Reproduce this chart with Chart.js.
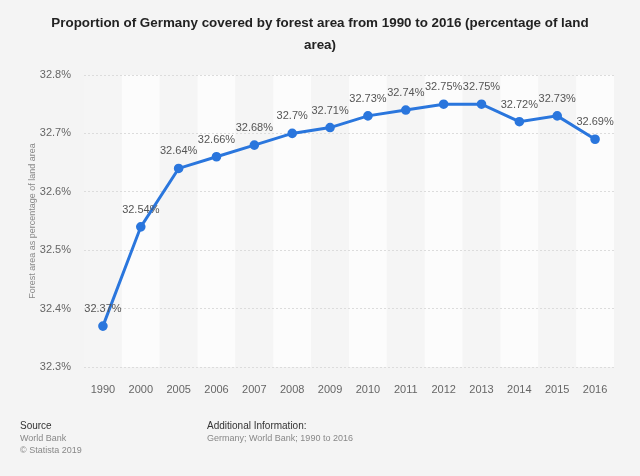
<!DOCTYPE html>
<html>
<head>
<meta charset="utf-8">
<script src="https://cdn.jsdelivr.net/npm/chart.js@4"></script>
<style>
  html, body { margin: 0; padding: 0; background: #f4f4f4; }
  #wrap { position: relative; width: 640px; height: 476px; font-family: "Liberation Sans", Arial, sans-serif; }
  #title { position: absolute; left: 20px; top: 12px; width: 600px; text-align: center; font-weight: bold; font-size: 13.4px; line-height: 22px; color: #222; }
  .foot { position: absolute; font-size: 9px; line-height: 12px; color: #888; }
  .foot b { color: #333; font-weight: normal; font-size: 10px; }
  canvas { position: absolute; left: 0; top: 0; }
</style>
</head>
<body>
<div id="wrap">
  <canvas id="myChart" width="640" height="476"></canvas>
  <div id="title">Proportion of Germany covered by forest area from 1990 to 2016 (percentage of land<br>area)</div>
  <div class="foot" style="left:20px; top:420px;"><b>Source</b><br>World Bank<br>© Statista 2019</div>
  <div class="foot" style="left:207px; top:420px;"><b>Additional Information:</b><br>Germany; World Bank; 1990 to 2016</div>
</div>
<script>
const years = ['1990', '2000', '2005', '2006', '2007', '2008', '2009', '2010', '2011', '2012', '2013', '2014', '2015', '2016'];
const forestShare = [32.37, 32.54, 32.64, 32.66, 32.68, 32.7, 32.71, 32.73, 32.74, 32.75, 32.75, 32.72, 32.73, 32.69];
const yTicks = [32.3, 32.4, 32.5, 32.6, 32.7, 32.8];

// alternating column bands behind the line
const bands = {
    id: 'bands',
    beforeDraw(chart) {
        const a = chart.chartArea;
        const x = chart.scales.x;
        const c = chart.ctx;
        const w = (a.right - a.left) / years.length;
        c.save();
        years.forEach((y, i) => {
            c.fillStyle = i % 2 ? '#fcfcfc' : '#f5f5f5';
            c.fillRect(x.getPixelForValue(i) - w / 2, a.top, w, a.bottom - a.top);
        });
        c.restore();
    }
};

// value labels above each point
const valueLabels = {
    id: 'valueLabels',
    afterDatasetsDraw(chart) {
        const c = chart.ctx;
        const meta = chart.getDatasetMeta(0);
        c.save();
        c.font = '11px "Liberation Sans", Arial, sans-serif';
        c.fillStyle = '#555';
        c.textAlign = 'center';
        c.textBaseline = 'middle';
        meta.data.forEach((pt, i) => {
            c.fillText(forestShare[i] + '%', pt.x, pt.y - 17);
        });
        c.restore();
    }
};

const ctx = document.getElementById('myChart').getContext('2d');
const myChart = new Chart(ctx, {
    type: 'line',
    data: {
        labels: years,
        datasets: [{
            data: forestShare,
            borderColor: '#2a76dd',
            backgroundColor: '#2a76dd',
            borderWidth: 3,
            pointRadius: 3.3,
            pointHoverRadius: 3.3,
            tension: 0,
            fill: false
        }]
    },
    options: {
        responsive: false,
        animation: false,
        layout: { padding: { top: 75, right: 26, bottom: 79, left: 27 } },
        plugins: { legend: { display: false }, tooltip: { enabled: false } },
        scales: {
            x: {
                offset: true,
                grid: { display: false },
                border: { display: false },
                ticks: { color: '#666', font: { size: 11, family: '"Liberation Sans", Arial, sans-serif' }, padding: 8 },
                afterFit: s => { s.height = 30; }
            },
            y: {
                min: 32.3,
                max: 32.8,
                afterBuildTicks: s => { s.ticks = yTicks.map(v => ({ value: v })); },
                grid: { color: '#dcdcdc', lineWidth: 1, drawTicks: false },
                border: { display: false, dash: [2, 2] },
                ticks: {
                    color: '#666',
                    padding: 13,
                    font: { size: 11, family: '"Liberation Sans", Arial, sans-serif' },
                    callback: v => v.toFixed(1) + '%'
                },
                title: {
                    display: true,
                    text: 'Forest area as percentage of land area',
                    color: '#888',
                    padding: 0,
                    font: { size: 9, family: '"Liberation Sans", Arial, sans-serif' }
                },
                afterFit: s => { s.width = 57; }
            }
        }
    },
    plugins: [bands, valueLabels]
});
</script>
</body>
</html>
